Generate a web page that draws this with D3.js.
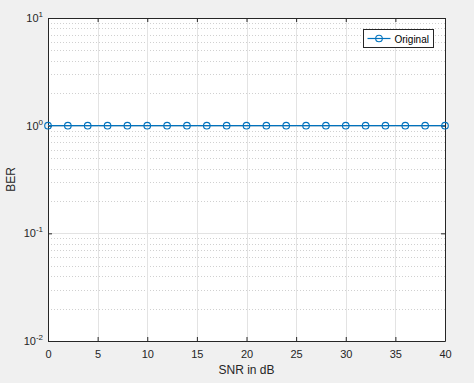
<!DOCTYPE html>
<html><head><meta charset="utf-8">
<script src="https://cdn.jsdelivr.net/npm/d3@7"></script>
<style>body{margin:0;background:#f0f0f0;}svg{display:block;font-family:"Liberation Sans",Arial,sans-serif;}</style>
</head><body>
<script>
const snr = [0,2,4,6,8,10,12,14,16,18,20,22,24,26,28,30,32,34,36,38,40];
const ber = [1,1,1,1,1,1,1,1,1,1,1,1,1,1,1,1,1,1,1,1,1];
const xTicks = [0,5,10,15,20,25,30,35,40];
const yTicks = [0.01,0.1,1,10];
const yTickExp = ["-2","-1","0","1"];
const seriesName = "Original";

const W=474,H=383;
const m={l:48,r:29,t:18,b:42};
const svg=d3.select("body").append("svg").attr("width",W).attr("height",H);
svg.append("rect").attr("width",W).attr("height",H).attr("fill","#f0f0f0");
const x=d3.scaleLinear().domain([0,40]).range([m.l,W-m.r]);
const y=d3.scaleLog().domain([0.01,10]).range([H-m.b,m.t]);
svg.append("rect").attr("x",m.l).attr("y",m.t).attr("width",W-m.r-m.l).attr("height",H-m.b-m.t).attr("fill","#fff");
const g=svg.append("g");
// minor grid
const minor=[];
for(let e=-2;e<1;e++)for(let k=2;k<=9;k++)minor.push(k*Math.pow(10,e));
g.selectAll(".mn").data(minor).enter().append("line")
 .attr("x1",m.l).attr("x2",W-m.r).attr("y1",d=>Math.round(y(d))+0.5).attr("y2",d=>Math.round(y(d))+0.5)
 .attr("stroke","#d0d0d0").attr("stroke-dasharray","1,2").attr("stroke-width",1);
g.selectAll(".mj").data(yTicks.slice(1,-1)).enter().append("line")
 .attr("x1",m.l).attr("x2",W-m.r).attr("y1",d=>Math.round(y(d))+0.5).attr("y2",d=>Math.round(y(d))+0.5)
 .attr("stroke","#e3e3e3").attr("stroke-width",1);
g.selectAll(".vx").data(xTicks.slice(1,-1)).enter().append("line")
 .attr("y1",m.t).attr("y2",H-m.b).attr("x1",d=>Math.round(x(d))+0.5).attr("x2",d=>Math.round(x(d))+0.5)
 .attr("stroke","#e3e3e3").attr("stroke-width",1);
// axes
const xa=d3.axisBottom(x).tickValues(xTicks).tickSizeInner(-4).tickSizeOuter(0).tickPadding(9);
const xg=svg.append("g").attr("transform",`translate(0,${H-m.b})`).call(xa);
const xt=svg.append("g").attr("transform",`translate(0,${m.t})`).call(d3.axisTop(x).tickValues(xTicks).tickSizeInner(-4).tickSizeOuter(0).tickFormat(""));
const ya=d3.axisLeft(y).tickValues(yTicks).tickSizeInner(-4).tickSizeOuter(0).tickFormat("");
const yg=svg.append("g").attr("transform",`translate(${m.l},0)`).call(ya);
const yr=svg.append("g").attr("transform",`translate(${W-m.r},0)`).call(d3.axisRight(y).tickValues(yTicks).tickSizeInner(-4).tickSizeOuter(0).tickFormat(""));
[xg,xt,yg,yr].forEach(a=>{a.select(".domain").attr("stroke","#262626");a.selectAll(".tick line").attr("stroke","#262626");});
xg.selectAll("text").attr("fill","#262626").style("font-size","11px");
// y tick labels with superscript
yTicks.forEach((v,i)=>{
 const t=svg.append("text").attr("x",m.l-5).attr("y",y(v)+4).attr("text-anchor","end").attr("fill","#262626").style("font-size","11px");
 t.append("tspan").text("10");
 t.append("tspan").attr("dy",-5).style("font-size","8px").text(yTickExp[i]);
});
// line
svg.append("path").datum(snr.map((s,i)=>[s,ber[i]])).attr("fill","none").attr("stroke","#0072bd").attr("stroke-width",1.2)
 .attr("d",d3.line().x(d=>x(d[0])).y(d=>y(d[1])));
svg.selectAll(".pt").data(snr.map((s,i)=>[s,ber[i]])).enter().append("circle")
 .attr("cx",d=>x(d[0])).attr("cy",d=>y(d[1])).attr("r",3.3).attr("fill","none").attr("stroke","#0072bd").attr("stroke-width",1.1);
// labels
svg.append("text").attr("x",(m.l+W-m.r)/2).attr("y",374).attr("text-anchor","middle").attr("fill","#262626").style("font-size","12px").text("SNR in dB");
svg.append("text").attr("transform",`translate(15,${(m.t+H-m.b)/2}) rotate(-90)`).attr("text-anchor","middle").attr("fill","#262626").style("font-size","12px").text("BER");
// legend
const lg=svg.append("g").attr("transform","translate(363.5,29.5)");
lg.append("rect").attr("width",70).attr("height",18).attr("fill","#fff").attr("stroke","#262626").attr("stroke-width",1);
lg.append("line").attr("x1",4).attr("x2",27).attr("y1",9).attr("y2",9).attr("stroke","#0072bd").attr("stroke-width",1.2);
lg.append("circle").attr("cx",15.5).attr("cy",9).attr("r",3.3).attr("fill","none").attr("stroke","#0072bd").attr("stroke-width",1.1);
lg.append("text").attr("x",31).attr("y",13).attr("fill","#000").style("font-size","10px").text(seriesName);
</script>
</body></html>
